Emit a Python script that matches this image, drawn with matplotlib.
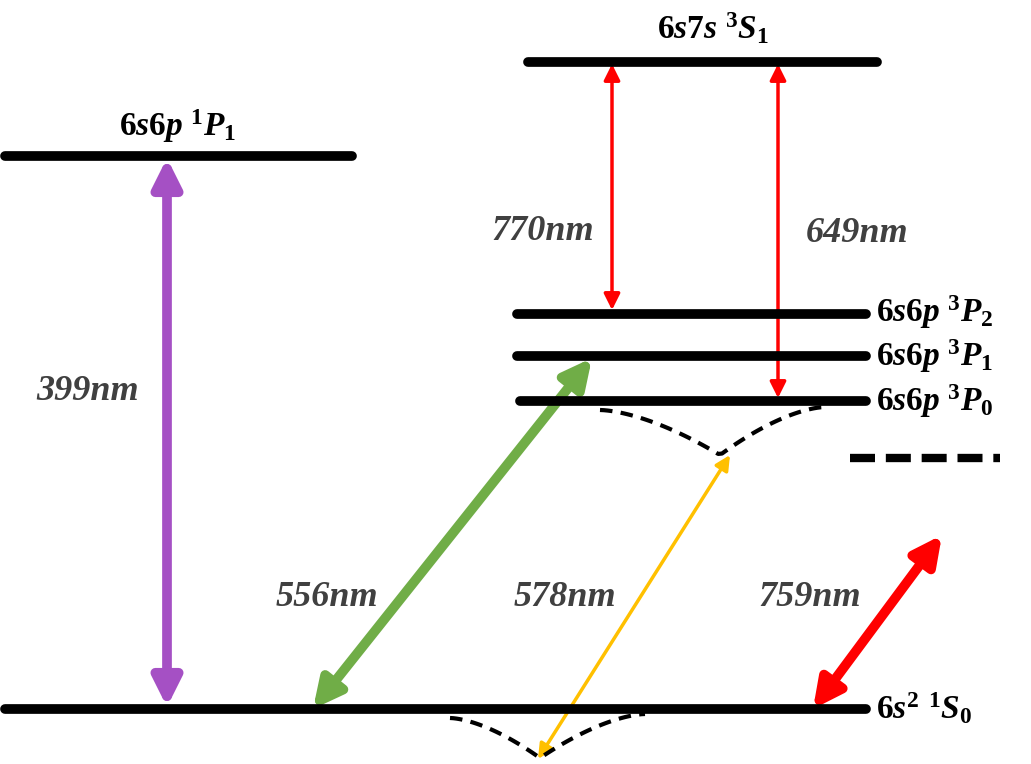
import matplotlib
matplotlib.use("Agg")
import matplotlib.pyplot as plt
from matplotlib.patches import FancyArrowPatch
import numpy as np

plt.rcParams['mathtext.fontset'] = 'custom'
plt.rcParams['mathtext.rm'] = 'Liberation Serif:bold'
plt.rcParams['mathtext.it'] = 'Liberation Serif:bold:italic'
plt.rcParams['mathtext.bf'] = 'Liberation Serif:bold'

# Energy levels: (x_start, x_end, y) in diagram pixel units
level_names = ['1P1', '3S1', '3P2', '3P1', '3P0', '1S0']
level_x0 = [5, 528, 517, 517, 520, 5]
level_x1 = [352, 877, 866, 866, 866, 866]
level_y = [156, 62, 314, 356, 401, 709]

# Level labels
label_texts = [r'$6s6p\ ^{1}P_{1}$', r'$6s7s\ ^{3}S_{1}$', r'$6s6p\ ^{3}P_{2}$',
               r'$6s6p\ ^{3}P_{1}$', r'$6s6p\ ^{3}P_{0}$', r'$6s^{2}\ ^{1}S_{0}$']
label_x = [178, 713, 876, 876, 876, 876]
label_y = [126, 28, 312, 356, 401, 709]
label_ha = ['center', 'center', 'left', 'left', 'left', 'left']

# Transitions: start, end, colour, width, head scale
trans_names = ['399nm', '770nm', '649nm', '556nm', '578nm', '759nm']
trans_start = [(167, 707), (612, 310), (778, 398), (313, 709), (538, 759), (813, 709)]
trans_end = [(167, 158), (612, 64), (778, 64), (592, 358), (730, 455), (942, 535)]
trans_color = ['#a550c4', '#ff0000', '#ff0000', '#70ad47', '#ffc000', '#ff0000']
trans_lw = [7, 2.5, 2.5, 7, 2.5, 7]
trans_head = [42, 24, 24, 42, 22, 42]
trans_lab_x = [88, 543, 857, 327, 565, 810]
trans_lab_y = [392, 232, 234, 597, 597, 597]

fig = plt.figure(figsize=(10.31, 7.64), dpi=100)
ax = fig.add_axes([0, 0, 1, 1])
ax.set_xlim(0, 1031)
ax.set_ylim(764, 0)
ax.axis('off')

for x0, x1, y in zip(level_x0, level_x1, level_y):
    ax.plot([x0, x1], [y, y], color='black', lw=7, solid_capstyle='round')

for t, x, y, ha in zip(label_texts, label_x, label_y, label_ha):
    ax.text(x, y, t, ha=ha, va='center', fontsize=24, color='black')

# dashed features
ax.plot([850, 1000], [458, 458], color='black', lw=6, ls=(0, (3, 1.3)))
xs = np.linspace(600, 825, 60)
ys = np.where(xs < 720, 410 + 45 * ((xs - 600) / 120) ** 1.6, 455 - 48 * (1 - (1 - (xs - 720) / 105) ** 1.6))
ax.plot(xs, ys, color='black', lw=3, ls=(0, (3, 2)))
xs2 = np.linspace(450, 645, 60)
ys2 = np.where(xs2 < 540, 718 + 40 * ((xs2 - 450) / 90) ** 1.6, 758 - 44 * (1 - (1 - (xs2 - 540) / 105) ** 1.6))
ax.plot(xs2, ys2, color='black', lw=3, ls=(0, (3, 2)))

for s, e, c, lw, hs in zip(trans_start, trans_end, trans_color, trans_lw, trans_head):
    a = FancyArrowPatch(s, e, arrowstyle='<|-|>', mutation_scale=hs, color=c, lw=lw,
                        shrinkA=0, shrinkB=0)
    ax.add_patch(a)

for n, x, y in zip(trans_names, trans_lab_x, trans_lab_y):
    ax.text(x, y, n, ha='center', va='center', fontsize=26, color='#404040',
            family='Liberation Serif', weight='bold', style='italic')

fig.savefig('out.png', dpi=100)
